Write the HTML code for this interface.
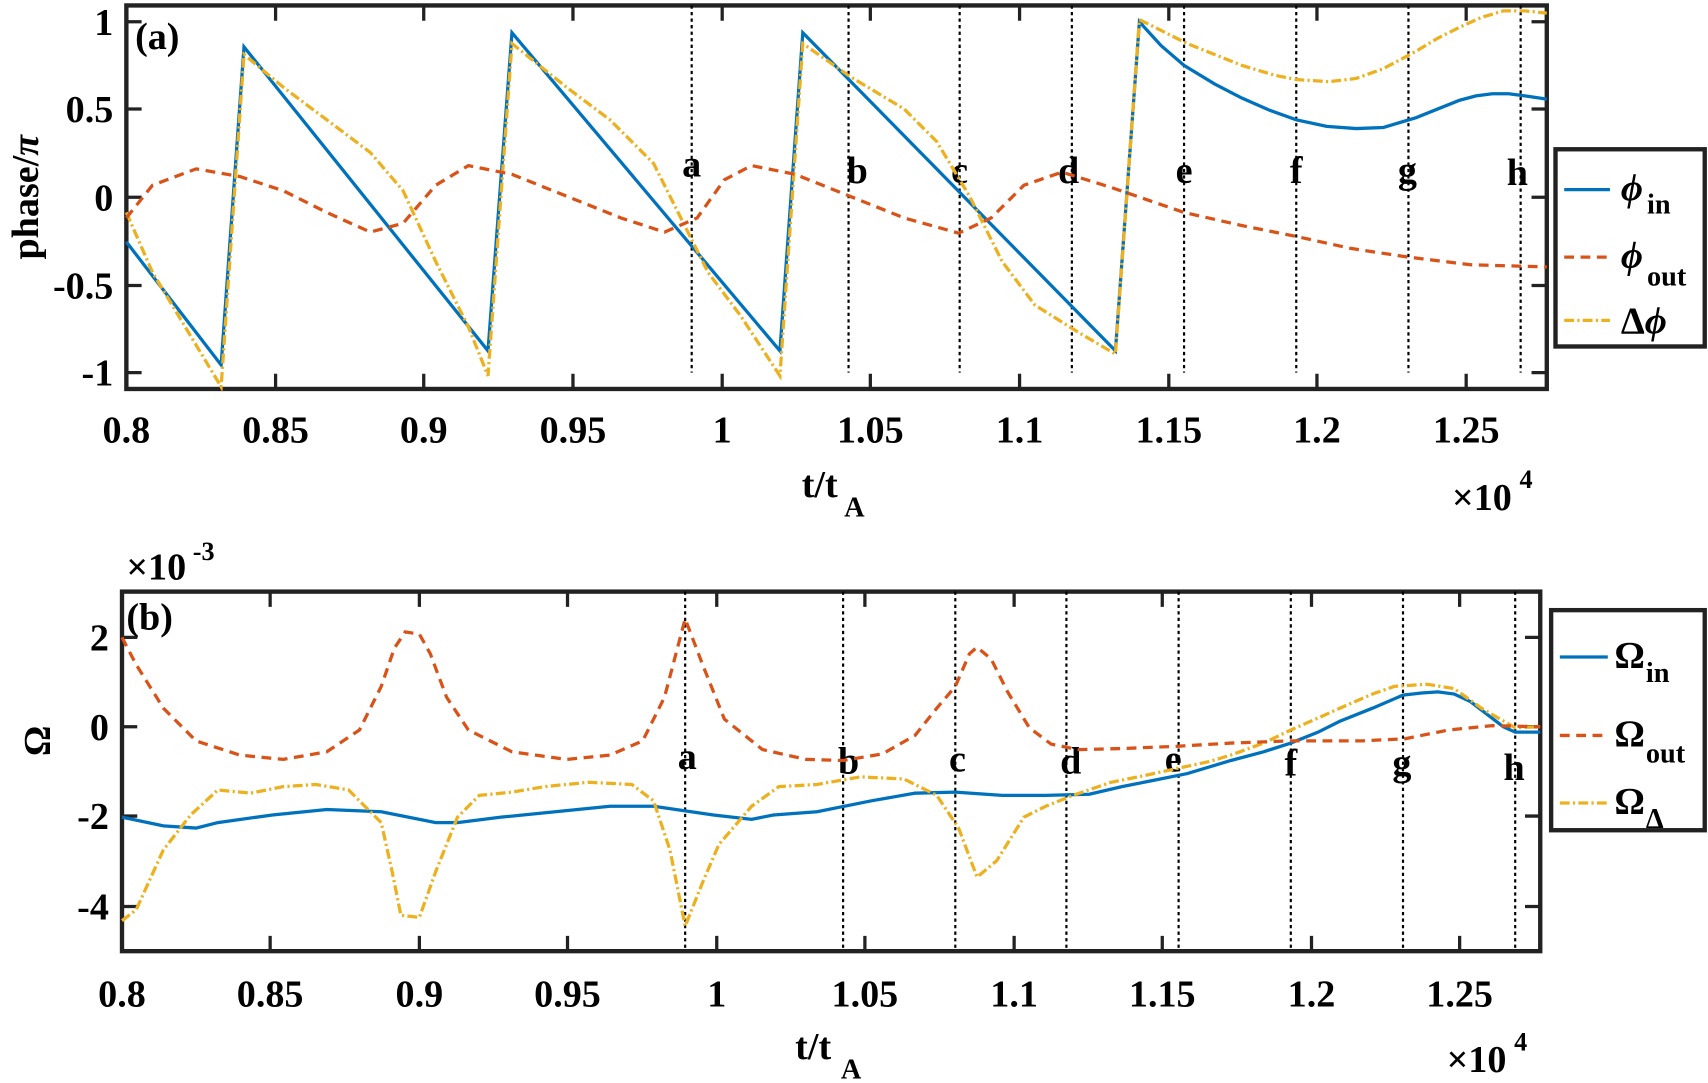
<!DOCTYPE html>
<html><head><style>
html,body{margin:0;padding:0;background:#fff;}
svg{display:block;}
text{font-family:"Liberation Serif",serif;font-weight:bold;fill:#000;}
</style></head><body>
<svg width="1708" height="1083" viewBox="0 0 1568 994" preserveAspectRatio="none" xmlns="http://www.w3.org/2000/svg">
<!-- Panel a -->
<g font-size="35">
<rect x="116" y="5" width="1304" height="352" fill="none" stroke="#222" stroke-width="4"/>
<g stroke="#222" stroke-width="3">
<path d="M116 20h14M116 100h14M116 181h14M116 262h14M116 342h14M1420 20h-14M1420 100h-14M1420 181h-14M1420 262h-14M1420 342h-14"/>
<path d="M253 357v-14M389 357v-14M526 357v-14M663 357v-14M799 357v-14M936 357v-14M1073 357v-14M1209 357v-14M1346 357v-14M253 5v14M389 5v14M526 5v14M663 5v14M799 5v14M936 5v14M1073 5v14M1209 5v14M1346 5v14"/>
</g>
<g stroke="#000" stroke-width="2" stroke-dasharray="3,3">
<path d="M635 5V342M779 5V342M881 5V342M984 5V342M1087 5V342M1190 5V342M1293 5V342M1396 5V342"/>
</g>
<g text-anchor="end">
<text x="104" y="32">1</text><text x="104" y="112">0.5</text><text x="104" y="193">0</text><text x="104" y="274">-0.5</text><text x="104" y="354">-1</text>
</g>
<g text-anchor="middle">
<text x="116" y="406">0.8</text><text x="253" y="406">0.85</text><text x="389" y="406">0.9</text><text x="526" y="406">0.95</text><text x="663" y="406">1</text><text x="799" y="406">1.05</text><text x="936" y="406">1.1</text><text x="1073" y="406">1.15</text><text x="1209" y="406">1.2</text><text x="1346" y="406">1.25</text>
<text x="635" y="162">a</text><text x="787" y="168">b</text><text x="881" y="168">c</text><text x="981" y="168">d</text><text x="1087" y="168">e</text><text x="1190" y="168">f</text><text x="1292" y="168">g</text><text x="1393" y="170">h</text>
</g>
<text x="736" y="456">t/t</text><text x="775" y="474" font-size="26">A</text>
<text x="1333" y="468">×10</text><text x="1395" y="448" font-size="24">4</text>
<text x="124" y="45">(a)</text>
<text transform="translate(35,181) rotate(-90)" text-anchor="middle">phase/<tspan font-style="italic">π</tspan></text>
<polyline fill="none" stroke="#0072bd" stroke-width="3" points="116,222 203,335 224,43 448,322 470,30 716,322 737,30 1024,322 1046,20 1066,42 1087,60 1115,77 1140,90 1165,101 1190,110 1218,116 1245,118 1270,117 1300,108 1320,100 1340,92 1355,88 1370,86 1385,86 1400,88 1420,91"/>
<polyline fill="none" stroke="#edb120" stroke-width="3" stroke-dasharray="9,3,2,3" points="116,195 140,250 170,300 203,355 224,50 260,80 300,110 340,140 370,175 400,240 430,300 448,345 470,40 520,80 560,110 600,150 625,200 650,250 680,290 716,345 737,40 780,70 830,100 860,130 890,180 920,240 950,280 990,305 1024,325 1046,18 1090,40 1140,60 1170,69 1190,73 1220,75 1245,72 1270,63 1300,47 1320,35 1340,25 1360,16 1380,10 1400,10 1420,12"/>
<polyline fill="none" stroke="#d95319" stroke-width="3" stroke-dasharray="9,6" points="116,200 140,170 180,155 220,162 260,175 300,195 340,213 370,205 400,170 430,152 470,160 520,180 570,200 610,213 640,200 665,165 690,152 730,160 780,180 830,200 880,214 910,200 940,170 975,158 1020,172 1087,195 1140,207 1190,217 1240,228 1293,236 1350,243 1420,245"/>
<rect x="1428" y="137" width="137" height="181" fill="#fff" stroke="#222" stroke-width="4"/>
<path d="M1436 174h42" stroke="#0072bd" stroke-width="3"/>
<path d="M1436 236h42" stroke="#d95319" stroke-width="3" stroke-dasharray="9,6"/>
<path d="M1436 294h42" stroke="#edb120" stroke-width="3" stroke-dasharray="9,3,2,3"/>
<text x="1488" y="184" font-style="italic">ϕ</text><text x="1512" y="196" font-size="26">in</text>
<text x="1488" y="246" font-style="italic">ϕ</text><text x="1512" y="262" font-size="26">out</text>
<text x="1488" y="306">Δ<tspan font-style="italic">ϕ</tspan></text>
</g>
<!-- Panel b -->
<g font-size="35">
<rect x="112" y="543" width="1302" height="330" fill="none" stroke="#222" stroke-width="4"/>
<g stroke="#222" stroke-width="3">
<path d="M112 585h14M112 667h14M112 749h14M112 832h14M1414 585h-14M1414 667h-14M1414 749h-14M1414 832h-14"/>
<path d="M248 873v-14M385 873v-14M521 873v-14M658 873v-14M794 873v-14M931 873v-14M1067 873v-14M1204 873v-14M1340 873v-14M248 543v14M385 543v14M521 543v14M658 543v14M794 543v14M931 543v14M1067 543v14M1204 543v14M1340 543v14"/>
</g>
<g stroke="#000" stroke-width="2" stroke-dasharray="3,3">
<path d="M629 543V873M774 543V873M877 543V873M979 543V873M1082 543V873M1185 543V873M1288 543V873M1391 543V873"/>
</g>
<g text-anchor="end">
<text x="100" y="597">2</text><text x="100" y="679">0</text><text x="100" y="761">-2</text><text x="100" y="844">-4</text>
</g>
<g text-anchor="middle">
<text x="112" y="924">0.8</text><text x="248" y="924">0.85</text><text x="385" y="924">0.9</text><text x="521" y="924">0.95</text><text x="658" y="924">1</text><text x="794" y="924">1.05</text><text x="931" y="924">1.1</text><text x="1067" y="924">1.15</text><text x="1204" y="924">1.2</text><text x="1340" y="924">1.25</text>
<text x="631" y="706">a</text><text x="779" y="710">b</text><text x="879" y="708">c</text><text x="983" y="710">d</text><text x="1077" y="708">e</text><text x="1185" y="712">f</text><text x="1287" y="712">g</text><text x="1390" y="716">h</text>
</g>
<text x="730" y="972">t/t</text><text x="772" y="990" font-size="26">A</text>
<text x="1328" y="984">×10</text><text x="1390" y="964" font-size="24">4</text>
<text x="116" y="532" font-weight="normal">×10</text><text x="177" y="514" font-size="24" font-weight="normal">-3</text>
<text x="116" y="578">(b)</text>
<text transform="translate(46,680) rotate(-90)" text-anchor="middle">Ω</text>
<polyline fill="none" stroke="#0072bd" stroke-width="3" points="112,750 150,758 180,760 200,755 250,748 300,743 350,745 400,755 420,755 460,750 520,744 560,740 600,740 655,748 690,752 710,748 750,745 800,735 840,728 877,727 920,730 960,730 1000,729 1030,722 1060,716 1090,710 1130,698 1160,690 1185,682 1210,672 1230,662 1260,650 1288,638 1305,636 1320,635 1335,637 1350,644 1380,667 1391,672 1414,672"/>
<polyline fill="none" stroke="#edb120" stroke-width="3" stroke-dasharray="9,3,2,3" points="112,845 125,835 150,780 175,748 200,725 230,728 260,722 290,720 320,725 350,755 360,800 368,840 385,842 400,800 420,750 440,730 470,727 500,722 540,718 580,720 600,735 615,780 629,850 645,810 660,775 690,740 715,722 750,720 790,713 830,715 860,730 880,760 897,805 915,790 940,750 960,740 985,730 1020,718 1050,712 1082,705 1110,699 1130,693 1160,682 1185,670 1210,659 1230,650 1260,637 1280,630 1310,628 1335,632 1360,650 1391,668 1414,667"/>
<polyline fill="none" stroke="#d95319" stroke-width="3" stroke-dasharray="9,6" points="112,585 125,610 150,650 180,680 220,693 260,697 300,690 330,670 350,630 362,595 372,580 385,582 395,600 410,640 430,670 470,690 520,697 560,693 590,680 610,640 629,568 645,610 665,660 700,688 740,697 774,698 810,692 840,675 860,650 877,630 890,600 897,594 910,605 925,635 945,668 965,683 990,688 1030,687 1080,685 1130,682 1185,680 1250,680 1290,678 1330,670 1370,666 1414,667"/>
<rect x="1424" y="560" width="141" height="202" fill="#fff" stroke="#222" stroke-width="4"/>
<path d="M1432 603h44" stroke="#0072bd" stroke-width="3"/>
<path d="M1432 675h44" stroke="#d95319" stroke-width="3" stroke-dasharray="9,6"/>
<path d="M1432 737h44" stroke="#edb120" stroke-width="3" stroke-dasharray="9,3,2,3"/>
<text x="1482" y="613">Ω</text><text x="1511" y="626" font-size="26">in</text>
<text x="1482" y="685">Ω</text><text x="1511" y="700" font-size="26">out</text>
<text x="1482" y="747">Ω</text><text x="1511" y="760" font-size="26">Δ</text>
</g>
</svg>
</body></html>
